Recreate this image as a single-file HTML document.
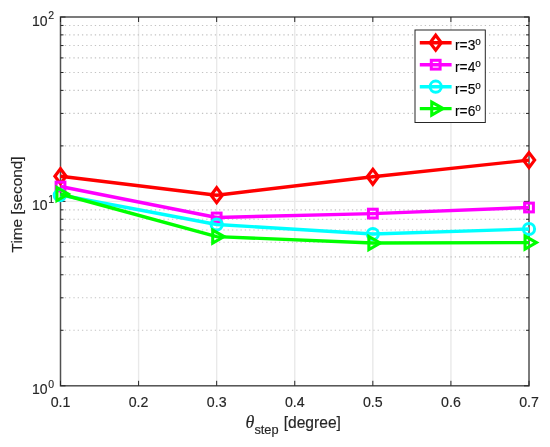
<!DOCTYPE html><html><head><meta charset="utf-8"><style>html,body{margin:0;padding:0;background:#fff;}svg{display:block}text{stroke:#262626;stroke-width:0.15px}</style></head><body>
<svg width="550" height="447" viewBox="0 0 550 447">
<rect x="0" y="0" width="550" height="447" fill="#fff"/>
<line x1="138.58" y1="17.0" x2="138.58" y2="385.8" stroke="#e9e9e9" stroke-width="1.4"/>
<line x1="216.67" y1="17.0" x2="216.67" y2="385.8" stroke="#e9e9e9" stroke-width="1.4"/>
<line x1="294.75" y1="17.0" x2="294.75" y2="385.8" stroke="#e9e9e9" stroke-width="1.4"/>
<line x1="372.83" y1="17.0" x2="372.83" y2="385.8" stroke="#e9e9e9" stroke-width="1.4"/>
<line x1="450.92" y1="17.0" x2="450.92" y2="385.8" stroke="#e9e9e9" stroke-width="1.4"/>
<line x1="60.5" y1="201.40" x2="529.0" y2="201.40" stroke="#e9e9e9" stroke-width="1.4"/>
<line x1="60.52" y1="330.29" x2="529.0" y2="330.29" stroke="#c3c3c3" stroke-width="1.1" stroke-dasharray="1.3 2.985"/>
<line x1="60.52" y1="297.82" x2="529.0" y2="297.82" stroke="#c3c3c3" stroke-width="1.1" stroke-dasharray="1.3 2.985"/>
<line x1="60.52" y1="274.78" x2="529.0" y2="274.78" stroke="#c3c3c3" stroke-width="1.1" stroke-dasharray="1.3 2.985"/>
<line x1="60.52" y1="256.91" x2="529.0" y2="256.91" stroke="#c3c3c3" stroke-width="1.1" stroke-dasharray="1.3 2.985"/>
<line x1="60.52" y1="242.31" x2="529.0" y2="242.31" stroke="#c3c3c3" stroke-width="1.1" stroke-dasharray="1.3 2.985"/>
<line x1="60.52" y1="229.96" x2="529.0" y2="229.96" stroke="#c3c3c3" stroke-width="1.1" stroke-dasharray="1.3 2.985"/>
<line x1="60.52" y1="219.27" x2="529.0" y2="219.27" stroke="#c3c3c3" stroke-width="1.1" stroke-dasharray="1.3 2.985"/>
<line x1="60.52" y1="209.84" x2="529.0" y2="209.84" stroke="#c3c3c3" stroke-width="1.1" stroke-dasharray="1.3 2.985"/>
<line x1="60.52" y1="145.89" x2="529.0" y2="145.89" stroke="#c3c3c3" stroke-width="1.1" stroke-dasharray="1.3 2.985"/>
<line x1="60.52" y1="113.42" x2="529.0" y2="113.42" stroke="#c3c3c3" stroke-width="1.1" stroke-dasharray="1.3 2.985"/>
<line x1="60.52" y1="90.38" x2="529.0" y2="90.38" stroke="#c3c3c3" stroke-width="1.1" stroke-dasharray="1.3 2.985"/>
<line x1="60.52" y1="72.51" x2="529.0" y2="72.51" stroke="#c3c3c3" stroke-width="1.1" stroke-dasharray="1.3 2.985"/>
<line x1="60.52" y1="57.91" x2="529.0" y2="57.91" stroke="#c3c3c3" stroke-width="1.1" stroke-dasharray="1.3 2.985"/>
<line x1="60.52" y1="45.56" x2="529.0" y2="45.56" stroke="#c3c3c3" stroke-width="1.1" stroke-dasharray="1.3 2.985"/>
<line x1="60.52" y1="34.87" x2="529.0" y2="34.87" stroke="#c3c3c3" stroke-width="1.1" stroke-dasharray="1.3 2.985"/>
<line x1="60.52" y1="25.44" x2="529.0" y2="25.44" stroke="#c3c3c3" stroke-width="1.1" stroke-dasharray="1.3 2.985"/>
<rect x="60.5" y="17.0" width="468.50" height="368.80" fill="none" stroke="#505050" stroke-width="1.5"/>
<line x1="60.50" y1="385.8" x2="60.50" y2="380.8" stroke="#262626" stroke-width="1"/>
<line x1="60.50" y1="17.0" x2="60.50" y2="22.0" stroke="#262626" stroke-width="1"/>
<line x1="138.58" y1="385.8" x2="138.58" y2="380.8" stroke="#262626" stroke-width="1"/>
<line x1="138.58" y1="17.0" x2="138.58" y2="22.0" stroke="#262626" stroke-width="1"/>
<line x1="216.67" y1="385.8" x2="216.67" y2="380.8" stroke="#262626" stroke-width="1"/>
<line x1="216.67" y1="17.0" x2="216.67" y2="22.0" stroke="#262626" stroke-width="1"/>
<line x1="294.75" y1="385.8" x2="294.75" y2="380.8" stroke="#262626" stroke-width="1"/>
<line x1="294.75" y1="17.0" x2="294.75" y2="22.0" stroke="#262626" stroke-width="1"/>
<line x1="372.83" y1="385.8" x2="372.83" y2="380.8" stroke="#262626" stroke-width="1"/>
<line x1="372.83" y1="17.0" x2="372.83" y2="22.0" stroke="#262626" stroke-width="1"/>
<line x1="450.92" y1="385.8" x2="450.92" y2="380.8" stroke="#262626" stroke-width="1"/>
<line x1="450.92" y1="17.0" x2="450.92" y2="22.0" stroke="#262626" stroke-width="1"/>
<line x1="529.00" y1="385.8" x2="529.00" y2="380.8" stroke="#262626" stroke-width="1"/>
<line x1="529.00" y1="17.0" x2="529.00" y2="22.0" stroke="#262626" stroke-width="1"/>
<line x1="60.5" y1="385.80" x2="65.5" y2="385.80" stroke="#262626" stroke-width="1"/>
<line x1="529.0" y1="385.80" x2="524.0" y2="385.80" stroke="#262626" stroke-width="1"/>
<line x1="60.5" y1="201.40" x2="65.5" y2="201.40" stroke="#262626" stroke-width="1"/>
<line x1="529.0" y1="201.40" x2="524.0" y2="201.40" stroke="#262626" stroke-width="1"/>
<line x1="60.5" y1="17.00" x2="65.5" y2="17.00" stroke="#262626" stroke-width="1"/>
<line x1="529.0" y1="17.00" x2="524.0" y2="17.00" stroke="#262626" stroke-width="1"/>
<line x1="60.5" y1="330.29" x2="63.5" y2="330.29" stroke="#262626" stroke-width="1"/>
<line x1="529.0" y1="330.29" x2="526.0" y2="330.29" stroke="#262626" stroke-width="1"/>
<line x1="60.5" y1="297.82" x2="63.5" y2="297.82" stroke="#262626" stroke-width="1"/>
<line x1="529.0" y1="297.82" x2="526.0" y2="297.82" stroke="#262626" stroke-width="1"/>
<line x1="60.5" y1="274.78" x2="63.5" y2="274.78" stroke="#262626" stroke-width="1"/>
<line x1="529.0" y1="274.78" x2="526.0" y2="274.78" stroke="#262626" stroke-width="1"/>
<line x1="60.5" y1="256.91" x2="63.5" y2="256.91" stroke="#262626" stroke-width="1"/>
<line x1="529.0" y1="256.91" x2="526.0" y2="256.91" stroke="#262626" stroke-width="1"/>
<line x1="60.5" y1="242.31" x2="63.5" y2="242.31" stroke="#262626" stroke-width="1"/>
<line x1="529.0" y1="242.31" x2="526.0" y2="242.31" stroke="#262626" stroke-width="1"/>
<line x1="60.5" y1="229.96" x2="63.5" y2="229.96" stroke="#262626" stroke-width="1"/>
<line x1="529.0" y1="229.96" x2="526.0" y2="229.96" stroke="#262626" stroke-width="1"/>
<line x1="60.5" y1="219.27" x2="63.5" y2="219.27" stroke="#262626" stroke-width="1"/>
<line x1="529.0" y1="219.27" x2="526.0" y2="219.27" stroke="#262626" stroke-width="1"/>
<line x1="60.5" y1="209.84" x2="63.5" y2="209.84" stroke="#262626" stroke-width="1"/>
<line x1="529.0" y1="209.84" x2="526.0" y2="209.84" stroke="#262626" stroke-width="1"/>
<line x1="60.5" y1="145.89" x2="63.5" y2="145.89" stroke="#262626" stroke-width="1"/>
<line x1="529.0" y1="145.89" x2="526.0" y2="145.89" stroke="#262626" stroke-width="1"/>
<line x1="60.5" y1="113.42" x2="63.5" y2="113.42" stroke="#262626" stroke-width="1"/>
<line x1="529.0" y1="113.42" x2="526.0" y2="113.42" stroke="#262626" stroke-width="1"/>
<line x1="60.5" y1="90.38" x2="63.5" y2="90.38" stroke="#262626" stroke-width="1"/>
<line x1="529.0" y1="90.38" x2="526.0" y2="90.38" stroke="#262626" stroke-width="1"/>
<line x1="60.5" y1="72.51" x2="63.5" y2="72.51" stroke="#262626" stroke-width="1"/>
<line x1="529.0" y1="72.51" x2="526.0" y2="72.51" stroke="#262626" stroke-width="1"/>
<line x1="60.5" y1="57.91" x2="63.5" y2="57.91" stroke="#262626" stroke-width="1"/>
<line x1="529.0" y1="57.91" x2="526.0" y2="57.91" stroke="#262626" stroke-width="1"/>
<line x1="60.5" y1="45.56" x2="63.5" y2="45.56" stroke="#262626" stroke-width="1"/>
<line x1="529.0" y1="45.56" x2="526.0" y2="45.56" stroke="#262626" stroke-width="1"/>
<line x1="60.5" y1="34.87" x2="63.5" y2="34.87" stroke="#262626" stroke-width="1"/>
<line x1="529.0" y1="34.87" x2="526.0" y2="34.87" stroke="#262626" stroke-width="1"/>
<line x1="60.5" y1="25.44" x2="63.5" y2="25.44" stroke="#262626" stroke-width="1"/>
<line x1="529.0" y1="25.44" x2="526.0" y2="25.44" stroke="#262626" stroke-width="1"/>
<polyline points="60.50,176.20 216.67,195.20 372.83,176.80 529.00,160.10" fill="none" stroke="#ff0000" stroke-width="3.4" stroke-linejoin="round"/>
<path d="M60.50,168.70L66.10,176.20L60.50,183.70L54.90,176.20Z" fill="none" stroke="#ff0000" stroke-width="3.2" stroke-linejoin="miter" stroke-miterlimit="10"/>
<path d="M216.67,187.70L222.27,195.20L216.67,202.70L211.07,195.20Z" fill="none" stroke="#ff0000" stroke-width="3.2" stroke-linejoin="miter" stroke-miterlimit="10"/>
<path d="M372.83,169.30L378.43,176.80L372.83,184.30L367.23,176.80Z" fill="none" stroke="#ff0000" stroke-width="3.2" stroke-linejoin="miter" stroke-miterlimit="10"/>
<path d="M529.00,152.60L534.60,160.10L529.00,167.60L523.40,160.10Z" fill="none" stroke="#ff0000" stroke-width="3.2" stroke-linejoin="miter" stroke-miterlimit="10"/>
<polyline points="60.50,186.50 216.67,217.50 372.83,213.60 529.00,207.50" fill="none" stroke="#ff00ff" stroke-width="3.4" stroke-linejoin="round"/>
<rect x="56.10" y="182.10" width="8.80" height="8.80" fill="none" stroke="#ff00ff" stroke-width="3"/>
<rect x="212.27" y="213.10" width="8.80" height="8.80" fill="none" stroke="#ff00ff" stroke-width="3"/>
<rect x="368.43" y="209.20" width="8.80" height="8.80" fill="none" stroke="#ff00ff" stroke-width="3"/>
<rect x="524.60" y="203.10" width="8.80" height="8.80" fill="none" stroke="#ff00ff" stroke-width="3"/>
<polyline points="60.50,195.00 216.67,224.50 372.83,234.00 529.00,229.00" fill="none" stroke="#00ffff" stroke-width="3.4" stroke-linejoin="round"/>
<circle cx="59.80" cy="195.20" r="5.6" fill="none" stroke="#00ffff" stroke-width="3"/>
<circle cx="216.67" cy="224.50" r="5.6" fill="none" stroke="#00ffff" stroke-width="3"/>
<circle cx="372.83" cy="234.00" r="5.6" fill="none" stroke="#00ffff" stroke-width="3"/>
<circle cx="529.00" cy="229.00" r="5.6" fill="none" stroke="#00ffff" stroke-width="3"/>
<polyline points="60.50,194.00 216.67,236.60 372.83,243.00 529.00,242.60" fill="none" stroke="#00ff00" stroke-width="3.4" stroke-linejoin="round"/>
<path d="M56.95,187.50L68.30,194.00L56.95,200.50Z" fill="none" stroke="#00ff00" stroke-width="3.1" stroke-linejoin="miter" stroke-miterlimit="10"/>
<path d="M212.72,230.10L224.07,236.60L212.72,243.10Z" fill="none" stroke="#00ff00" stroke-width="3.1" stroke-linejoin="miter" stroke-miterlimit="10"/>
<path d="M368.88,236.50L380.23,243.00L368.88,249.50Z" fill="none" stroke="#00ff00" stroke-width="3.1" stroke-linejoin="miter" stroke-miterlimit="10"/>
<path d="M525.05,236.10L536.40,242.60L525.05,249.10Z" fill="none" stroke="#00ff00" stroke-width="3.1" stroke-linejoin="miter" stroke-miterlimit="10"/>
<text x="60.50" y="406.6" font-family="'Liberation Sans', Arial, Helvetica, sans-serif" font-size="14.2" text-anchor="middle" fill="#262626">0.1</text>
<text x="138.58" y="406.6" font-family="'Liberation Sans', Arial, Helvetica, sans-serif" font-size="14.2" text-anchor="middle" fill="#262626">0.2</text>
<text x="216.67" y="406.6" font-family="'Liberation Sans', Arial, Helvetica, sans-serif" font-size="14.2" text-anchor="middle" fill="#262626">0.3</text>
<text x="294.75" y="406.6" font-family="'Liberation Sans', Arial, Helvetica, sans-serif" font-size="14.2" text-anchor="middle" fill="#262626">0.4</text>
<text x="372.83" y="406.6" font-family="'Liberation Sans', Arial, Helvetica, sans-serif" font-size="14.2" text-anchor="middle" fill="#262626">0.5</text>
<text x="450.92" y="406.6" font-family="'Liberation Sans', Arial, Helvetica, sans-serif" font-size="14.2" text-anchor="middle" fill="#262626">0.6</text>
<text x="529.00" y="406.6" font-family="'Liberation Sans', Arial, Helvetica, sans-serif" font-size="14.2" text-anchor="middle" fill="#262626">0.7</text>
<text x="47.6" y="394.40" font-family="'Liberation Sans', Arial, Helvetica, sans-serif" font-size="14" text-anchor="end" fill="#262626">10</text>
<text x="48.2" y="387.80" font-family="'Liberation Sans', Arial, Helvetica, sans-serif" font-size="10.5" fill="#262626">0</text>
<text x="47.6" y="210.00" font-family="'Liberation Sans', Arial, Helvetica, sans-serif" font-size="14" text-anchor="end" fill="#262626">10</text>
<text x="48.2" y="203.40" font-family="'Liberation Sans', Arial, Helvetica, sans-serif" font-size="10.5" fill="#262626">1</text>
<text x="47.6" y="25.60" font-family="'Liberation Sans', Arial, Helvetica, sans-serif" font-size="14" text-anchor="end" fill="#262626">10</text>
<text x="48.2" y="19.00" font-family="'Liberation Sans', Arial, Helvetica, sans-serif" font-size="10.5" fill="#262626">2</text>
<text x="0" y="0" transform="translate(22.2,204.4) rotate(-90)" font-family="'Liberation Sans', Arial, Helvetica, sans-serif" font-size="15.4" text-anchor="middle" fill="#262626">Time [second]</text>
<text x="245.6" y="427.6" font-family="'Liberation Serif', serif" font-style="italic" font-size="18" fill="#262626">&#952;</text>
<text x="254.4" y="434.2" font-family="'Liberation Sans', Arial, Helvetica, sans-serif" font-size="12.8" fill="#262626">step</text>
<text x="283.7" y="427.5" font-family="'Liberation Sans', Arial, Helvetica, sans-serif" font-size="15.6" fill="#262626">[degree]</text>
<rect x="415.0" y="30.0" width="70.30" height="92.50" fill="#fff" stroke="#262626" stroke-width="1"/>
<line x1="419.8" y1="42.7" x2="451.6" y2="42.7" stroke="#ff0000" stroke-width="3.4"/>
<path d="M435.70,35.20L441.30,42.70L435.70,50.20L430.10,42.70Z" fill="none" stroke="#ff0000" stroke-width="3.2" stroke-linejoin="miter" stroke-miterlimit="10"/>
<text x="455.0" y="50.30" font-family="'Liberation Sans', Arial, Helvetica, sans-serif" font-size="13.8" fill="#000">r=3<tspan font-size="10" dy="-5.2">o</tspan></text>
<line x1="419.8" y1="64.7" x2="451.6" y2="64.7" stroke="#ff00ff" stroke-width="3.4"/>
<rect x="431.30" y="60.30" width="8.80" height="8.80" fill="none" stroke="#ff00ff" stroke-width="3"/>
<text x="455.0" y="72.30" font-family="'Liberation Sans', Arial, Helvetica, sans-serif" font-size="13.8" fill="#000">r=4<tspan font-size="10" dy="-5.2">o</tspan></text>
<line x1="419.8" y1="86.7" x2="451.6" y2="86.7" stroke="#00ffff" stroke-width="3.4"/>
<circle cx="435.70" cy="86.70" r="5.6" fill="none" stroke="#00ffff" stroke-width="3"/>
<text x="455.0" y="94.30" font-family="'Liberation Sans', Arial, Helvetica, sans-serif" font-size="13.8" fill="#000">r=5<tspan font-size="10" dy="-5.2">o</tspan></text>
<line x1="419.8" y1="108.6" x2="451.6" y2="108.6" stroke="#00ff00" stroke-width="3.4"/>
<path d="M431.75,102.10L443.10,108.60L431.75,115.10Z" fill="none" stroke="#00ff00" stroke-width="3.1" stroke-linejoin="miter" stroke-miterlimit="10"/>
<text x="455.0" y="116.20" font-family="'Liberation Sans', Arial, Helvetica, sans-serif" font-size="13.8" fill="#000">r=6<tspan font-size="10" dy="-5.2">o</tspan></text>
</svg></body></html>
